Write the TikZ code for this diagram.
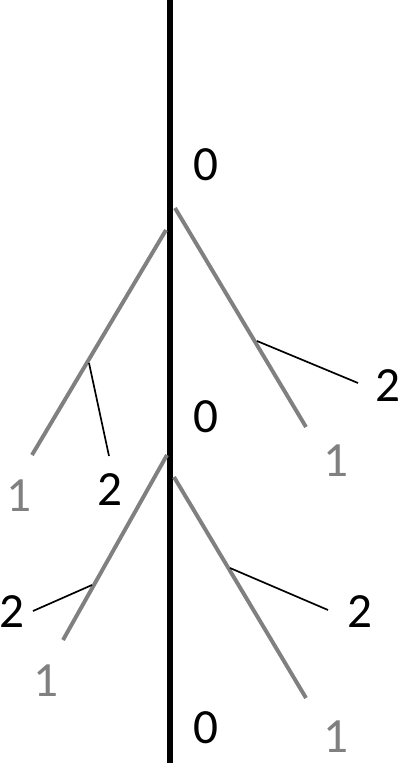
\documentclass[tikz,border=0pt]{standalone}
\usepackage{fontspec}
\setmainfont{Carlito}
\usepackage{tikz}
\definecolor{branchgrey}{RGB}{128,128,128}
\tikzset{stem/.style={line width=4.3pt, black},
         branch/.style={line width=2.8pt, branchgrey},
         tick/.style={line width=1.2pt, black},
         lab/.style={font=\fontsize{35}{40}\selectfont, inner sep=0pt},
         greylab/.style={lab, text=branchgrey}}

\begin{document}
\begin{tikzpicture}[x=0.025cm, y=-0.025cm]
            \useasboundingbox (0,0) rectangle (400,765);

            \coordinate (top) at (170,0);
            \coordinate (bottom) at (170,763);
            \draw[stem] (top) -- (bottom);

            \node[lab] (z1) at (206,165) {0};
            \node[lab] (z2) at (206,417) {0};
            \node[lab] (z3) at (206,728) {0};

                    \coordinate (a1) at (166,230);
                    \coordinate (a2) at (32,455);
                    \coordinate (a3) at (89,363);
                    \coordinate (a4) at (109,456);
                    \draw[branch] (a1) -- (a2);
                    \draw[tick] (a3) -- (a4);
                    \node[greylab] (l1) at (19,496) {1};
                    \node[lab] (l2) at (110,490) {2};

                    \coordinate (b1) at (175,208);
                    \coordinate (b2) at (306,427);
                    \coordinate (b3) at (257,341);
                    \coordinate (b4) at (358,383);
                    \draw[branch] (b1) -- (b2);
                    \draw[tick] (b3) -- (b4);
                    \node[greylab] (r1) at (336,461) {1};
                    \node[lab] (r2) at (388,386) {2};

                    \coordinate (c1) at (167,455);
                    \coordinate (c2) at (63,640);
                    \coordinate (c3) at (92,585);
                    \coordinate (c4) at (33,611);
                    \draw[branch] (c1) -- (c2);
                    \draw[tick] (c3) -- (c4);
                    \node[greylab] (m1) at (46,681) {1};
                    \node[lab] (m2) at (12,612) {2};

                    \coordinate (d1) at (174,477);
                    \coordinate (d2) at (306,698);
                    \coordinate (d3) at (230,568);
                    \coordinate (d4) at (328,610);
                    \draw[branch] (d1) -- (d2);
                    \draw[tick] (d3) -- (d4);
                    \node[greylab] (s1) at (336,737) {1};
                    \node[lab] (s2) at (360,612) {2};
\end{tikzpicture}
\end{document}
